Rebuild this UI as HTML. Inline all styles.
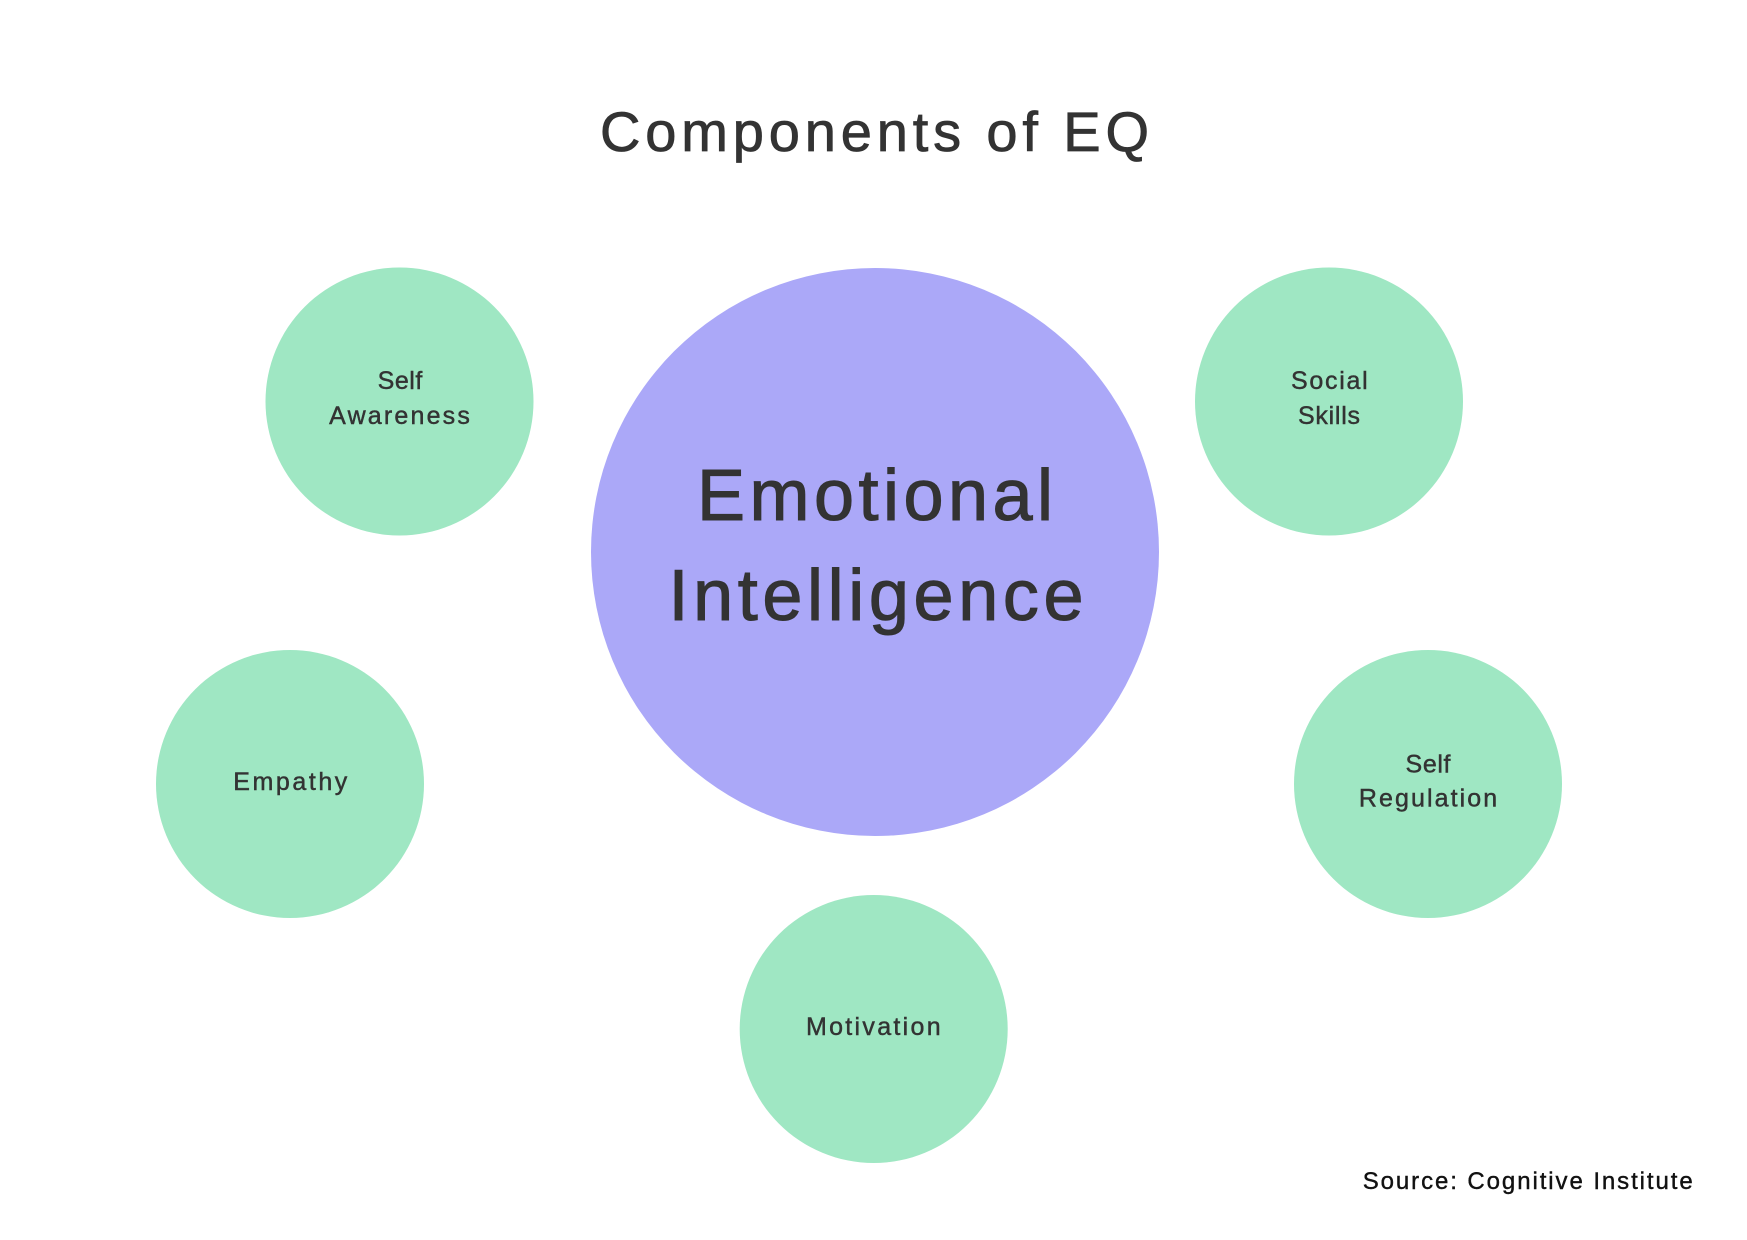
<!DOCTYPE html>
<html>
<head>
<meta charset="utf-8">
<style>
  html, body { margin: 0; padding: 0; background: #ffffff; }
  body { width: 1747px; height: 1240px; overflow: hidden; }
  svg { display: block; }
  text { font-family: "Liberation Sans", "DejaVu Sans", sans-serif; fill: #333333; }
  .s { stroke: #333333; stroke-width: 0.45; }
  .b { stroke: #333333; stroke-width: 1.1; }
  .t { stroke: #333333; stroke-width: 0.8; }
</style>
</head>
<body>
<svg width="1747" height="1240" viewBox="0 0 1747 1240" xmlns="http://www.w3.org/2000/svg">
  <rect x="0" y="0" width="1747" height="1240" fill="#ffffff"/>

  <!-- Title -->
  <text class="t" x="874.5" y="151" font-size="56" text-anchor="middle" textLength="549" lengthAdjust="spacing">Components of EQ</text>

  <!-- Central circle -->
  <circle cx="875" cy="552" r="284" fill="#aba8f8"/>
  <text class="b" x="875" y="520" font-size="72" text-anchor="middle" textLength="356" lengthAdjust="spacing">Emotional</text>
  <text class="b" x="876" y="620" font-size="72" text-anchor="middle" textLength="415" lengthAdjust="spacing">Intelligence</text>

  <!-- Self Awareness -->
  <circle cx="399.5" cy="401.5" r="134" fill="#9fe7c3"/>
  <text class="s" x="400" y="389" font-size="25" text-anchor="middle" textLength="44.7" lengthAdjust="spacing">Self</text>
  <text class="s" x="399.5" y="424" font-size="25" text-anchor="middle" textLength="140.7" lengthAdjust="spacing">Awareness</text>

  <!-- Social Skills -->
  <circle cx="1329" cy="401.5" r="134" fill="#9fe7c3"/>
  <text class="s" x="1329.3" y="389" font-size="25" text-anchor="middle" textLength="76.7" lengthAdjust="spacing">Social</text>
  <text class="s" x="1329" y="424" font-size="25" text-anchor="middle" textLength="62" lengthAdjust="spacing">Skills</text>

  <!-- Empathy -->
  <circle cx="290" cy="784" r="134" fill="#9fe7c3"/>
  <text class="s" x="290.3" y="790" font-size="25" text-anchor="middle" textLength="114" lengthAdjust="spacing">Empathy</text>

  <!-- Self Regulation -->
  <circle cx="1428" cy="784" r="134" fill="#9fe7c3"/>
  <text class="s" x="1428" y="772.7" font-size="25" text-anchor="middle" textLength="45" lengthAdjust="spacing">Self</text>
  <text class="s" x="1428" y="806.7" font-size="25" text-anchor="middle" textLength="138.3" lengthAdjust="spacing">Regulation</text>

  <!-- Motivation -->
  <circle cx="873.7" cy="1029" r="134" fill="#9fe7c3"/>
  <text class="s" x="873.3" y="1035" font-size="25" text-anchor="middle" textLength="134.7" lengthAdjust="spacing">Motivation</text>

  <!-- Source -->
  <text x="1362.7" y="1189" font-size="24" style="fill:#111111;stroke:#111111;stroke-width:0.4" textLength="330" lengthAdjust="spacing">Source: Cognitive Institute</text>
</svg>
</body>
</html>
